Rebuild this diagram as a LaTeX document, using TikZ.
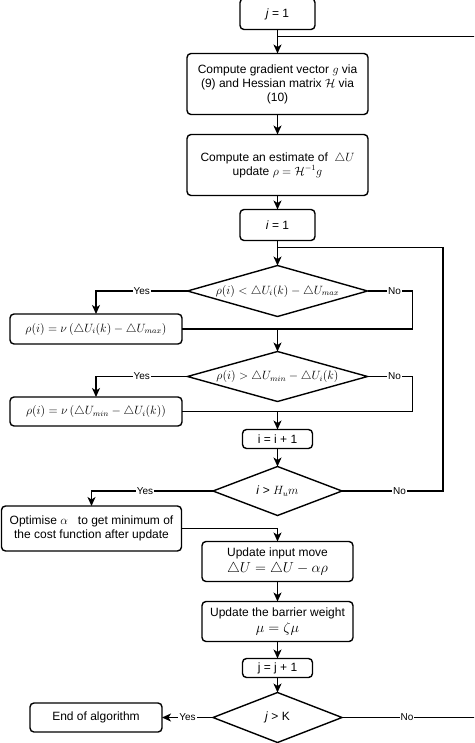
\documentclass[tikz,border=0pt]{standalone}
\usepackage{fontspec}
\setmainfont{Liberation Sans}
\usetikzlibrary{arrows.meta,positioning,shapes.geometric}

\begin{document}
\begin{tikzpicture}[
    x=1pt, y=1pt,
    box/.style={
      draw,
      rounded corners=4pt,
      align=center,
      inner sep=2pt,
      outer sep=0pt,
      font=\fontsize{12}{14}\selectfont
    },
    cond/.style={
      draw,
      diamond,
      aspect=3.5,
      inner sep=0pt,
      outer sep=0pt,
      font=\fontsize{12}{14}\selectfont
    },
    lbl/.style={fill=white, inner sep=1pt, font=\fontsize{10}{12}\selectfont},
    line width=1.4pt,
    >={Stealth[length=9pt,width=8pt,inset=2.5pt]}
  ]

  \useasboundingbox (0,0) rectangle (474,-743);
  \clip (0,0) rectangle (474,-743);

  % main column
  \node[box, minimum width=75pt, minimum height=31pt] (j1) at (277.5,-14) {\textit{j} = 1};
  \node[box, below=24pt of j1, minimum width=181pt, minimum height=61pt] (grad)
    {Compute gradient vector $g$ via\\(9) and Hessian matrix $\mathcal{H}$ via\\(10)};
  \node[box, below=20pt of grad, minimum width=181pt, minimum height=61pt] (est)
    {Compute an estimate of\ \ $\triangle U$\\update $\rho=\mathcal{H}^{-1}g$};
  \node[box, below=14pt of est, minimum width=75pt, minimum height=31pt] (i1) {\textit{i} = 1};
  \node[cond, below=25pt of i1, minimum width=180pt, minimum height=51pt] (d1)
    {$\rho(i)<\triangle U_i(k)-\triangle U_{max}$};
  \node[cond, below=35pt of d1, minimum width=180pt, minimum height=50pt] (d2)
    {$\rho(i)>\triangle U_{min}-\triangle U_i(k)$};
  \node[box, below=28pt of d2, minimum width=70pt, minimum height=19pt] (ii) {i = i + 1};
  \node[cond, below=18pt of ii, minimum width=129pt, minimum height=49pt] (d3)
    {\textit{i} > $H_u m$};
  \node[box, below=26pt of d3, minimum width=151pt, minimum height=40pt] (upd)
    {Update input move\\[2pt]{\fontsize{14}{16}\selectfont$\triangle U=\triangle U-\alpha\rho$}};
  \node[box, below=20pt of upd, minimum width=151pt, minimum height=40pt] (bar)
    {Update the barrier weight\\[2pt]{\fontsize{14}{16}\selectfont$\mu=\zeta\mu$}};
  \node[box, below=17pt of bar, minimum width=70pt, minimum height=19pt] (jj) {j = j + 1};
  \node[cond, below=15pt of jj, minimum width=129pt, minimum height=50pt] (d4)
    {\textit{j} > K};

  % side boxes
  \node[box, minimum width=172pt, minimum height=30pt] (r1) at (96,-329)
    {$\rho(i)=\nu\left(\triangle U_i(k)-\triangle U_{max}\right)$};
  \node[box, minimum width=172pt, minimum height=29pt] (r2) at (96,-411.5)
    {$\rho(i)=\nu\left(\triangle U_{min}-\triangle U_i(k)\right)$};
  \node[box, minimum width=180pt, minimum height=45pt] (opt) at (91.5,-528.5)
    {Optimise $\alpha$\ \ \ to get minimum of\\the cost function after update};
  \node[box, minimum width=132pt, minimum height=29pt] (end) at (96,-717.5)
    {End of algorithm};

  \coordinate[below=7pt of j1] (jloop);
  \coordinate[below=7pt of i1] (iloop);

  % connectors
  \draw[->] (j1) -- (grad);
  \draw[->] (grad) -- (est);
  \draw[->] (est) -- (i1);
  \draw[->] (i1) -- (d1);

  \draw[->] (d1.west) -| node[lbl, pos=0.25]{Yes} (r1.north);
  \draw (d1.east) -- node[lbl, pos=0.6]{No} ++(45,0) |- (r1.east);
  \draw[->] (r1.east -| d1.south) -- (d2);

  \draw[->] (d2.west) -| node[lbl, pos=0.25]{Yes} (r2.north);
  \draw (d2.east) -- node[lbl, pos=0.6]{No} ++(45,0) |- (r2.east);
  \draw[->] (r2.east -| d2.south) -- (ii);

  \draw[->] (ii) -- (d3);
  \draw[->] (d3.west) -| node[lbl, pos=0.28]{Yes} (opt.north);
  \draw (d3.east) -- node[lbl, pos=0.57]{No} ++(101,0) |- (iloop);

  \draw[->] (opt.east) -| (upd.north);
  \draw[->] (upd) -- (bar);
  \draw[->] (bar) -- (jj);
  \draw[->] (jj) -- (d4);
  \draw[->] (d4.west) -- node[lbl]{Yes} (end.east);
  \draw (d4.east) -- node[lbl, pos=0.25]{No} ++(260,0) |- (jloop);

\end{tikzpicture}
\end{document}
